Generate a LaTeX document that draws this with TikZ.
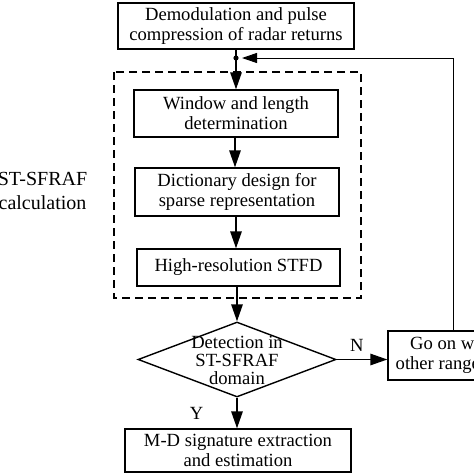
\documentclass[tikz,border=0pt]{standalone}
\usepackage{fontspec}
\setmainfont{Liberation Serif}
\usetikzlibrary{arrows.meta,shapes.geometric}
\begin{document}
\begin{tikzpicture}[x=1pt,y=-1pt,
  box/.style={draw,line width=1.4pt,inner sep=0pt,align=center,
    font=\fontsize{18.6}{20}\selectfont},
  flow/.style={line width=1.4pt,-{Triangle[length=17pt,width=11.5pt]}},
  lbl/.style={font=\fontsize{18.6}{20}\selectfont,inner sep=0pt}]
\clip (0,0) rectangle (474,474);
\fill[white] (0,0) rectangle (474,474);
\node[box,minimum width=236pt,minimum height=46pt] (top) at (236,26)
  {Demodulation and pulse\\compression of radar returns};
\draw[line width=1.4pt,dash pattern=on 8pt off 5pt] (114,72) rectangle (361,298);
\node[box,minimum width=204pt,minimum height=47pt] (win) at (236,113.5)
  {Window and length\\determination};
\node[box,minimum width=204pt,minimum height=48pt] (dict) at (237,192)
  {Dictionary design for\\sparse representation};
\node[box,minimum width=203pt,minimum height=37pt] (high) at (238.5,267.5)
  {High-resolution STFD};
\node[diamond,draw,line width=1.4pt,minimum width=198pt,minimum height=75pt,
  inner sep=0pt] (dec) at (237,359.5) {};
\node[lbl,align=center,font=\fontsize{18.6}{18}\selectfont] (dect) at (237,360)
  {Detection in\\ST-SFRAF\\domain};
\node[box,minimum width=128pt,minimum height=49pt] (goon) at (452,355.5)
  {Go on with\\other range bin};
\node[box,minimum width=226pt,minimum height=43pt] (md) at (238,450.5)
  {M-D signature extraction\\and estimation};
\node[lbl,align=center,font=\fontsize{20}{24}\selectfont] (stlab) at (42.5,191)
  {ST-SFRAF\\calculation};
\coordinate (jn) at (236,58);
\fill (jn) circle (2.6pt);
\draw[flow] (top.south) -- (win.north);
\draw[flow] (win.south -| 235,0) -- (dict.north -| 235,0);
\draw[flow] (dict.south -| 236,0) -- (high.north -| 236,0);
\draw[flow] (high.south -| 237,0) -- (dec.north);
\draw[flow] (dec.east) -- (dec.east -| goon.west) node[lbl,pos=0.4,above=7pt] (nl) {N};
\draw[flow] (dec.south) -- (md.north -| dec.south) node[lbl,midway,left=33pt] (yl) {Y};
\draw[line width=1pt,-{Triangle[length=15pt,width=10pt]},shorten >=6pt]
  (goon.north -| 453,0) |- (jn);
\end{tikzpicture}
\end{document}
